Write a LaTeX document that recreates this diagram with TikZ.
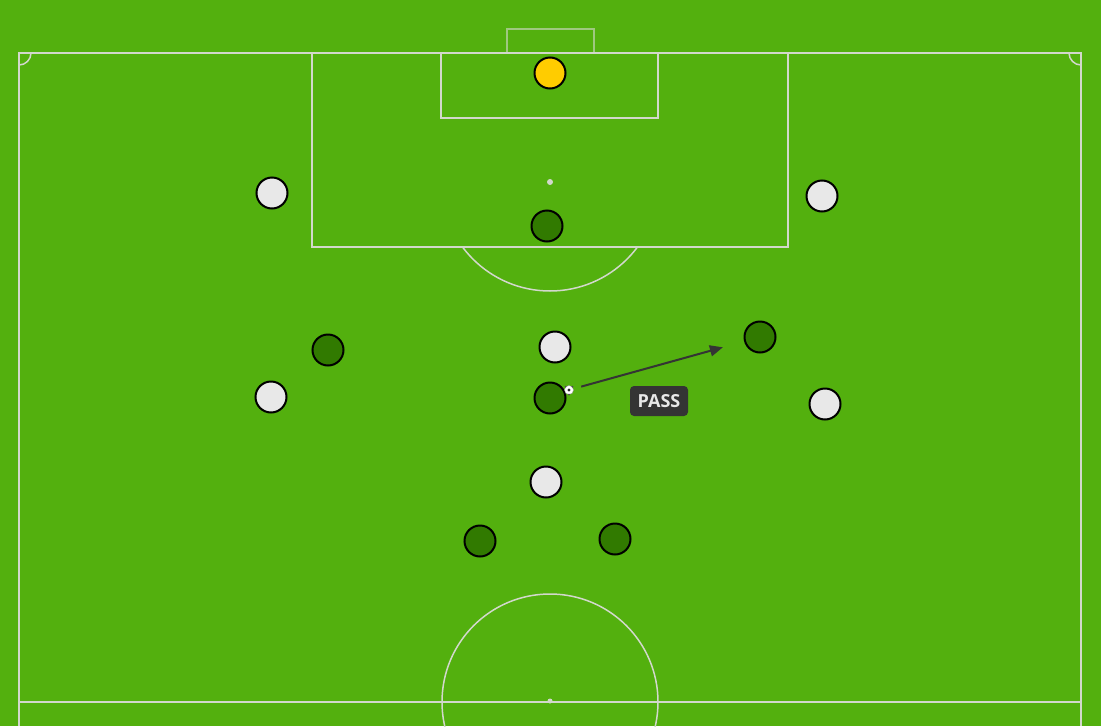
\documentclass[tikz,border=0pt]{standalone}
\usepackage{fontspec}
\usetikzlibrary{arrows.meta}
\newfontfamily\passfont{Open Sans}
\definecolor{pitch}{RGB}{83,176,14}
\definecolor{home}{RGB}{49,122,0}
\definecolor{away}{RGB}{232,232,232}
\definecolor{keeper}{RGB}{255,204,0}
\definecolor{chalk}{RGB}{210,216,204}
\definecolor{tag}{RGB}{52,52,52}
\begin{document}
\begin{tikzpicture}[x=1pt,y=-1pt,
  line/.style={draw=chalk, line width=2pt},
  thinline/.style={draw=chalk, line width=1.5pt},
  player/.style={circle, draw=black, line width=2pt, minimum size=31pt, inner sep=0pt}]
\useasboundingbox (0,0) rectangle (1101,726);
\fill[pitch] (0,0) rectangle (1101,726);
\draw[line] (19,726) -- (19,53) -- (1081,53) -- (1081,726);
\draw[line] (19,702) -- (1081,702);
\draw[line] (312,53) -- (312,247) -- (788,247) -- (788,53);
\draw[line] (441,53) -- (441,118) -- (658,118) -- (658,53);
\draw[line, opacity=0.6] (507,53) -- (507,29) -- (594,29) -- (594,53);
\begin{scope}
\clip (0,248) rectangle (1101,400);
\draw[thinline] (550,182) circle[radius=109pt];
\end{scope}
\begin{scope}
\clip (19,53) rectangle (1081,726);
\draw[thinline] (19,53) circle[radius=12pt] (1081,53) circle[radius=12pt];
\end{scope}
\draw[thinline] (550,702) circle[radius=108pt];
\fill[chalk] (550,182) circle[radius=3pt];
\fill[chalk] (550,701) circle[radius=2.5pt];
\node[player, fill=keeper] (gk) at (550,73){};
\node[player, fill=away] (w1) at (272,193){};
\node[player, fill=away] (w2) at (822,196){};
\node[player, fill=away] (w3) at (555,347){};
\node[player, fill=away] (w4) at (271,397){};
\node[player, fill=away] (w5) at (825,404){};
\node[player, fill=away] (w6) at (546,482){};
\node[player, fill=home] (h1) at (547,226){};
\node[player, fill=home] (h2) at (328,350){};
\node[player, fill=home] (h3) at (760,337){};
\node[player, fill=home] (h4) at (550,398){};
\node[player, fill=home] (h5) at (480,541){};
\node[player, fill=home] (h6) at (615,539){};
\node[circle, fill=white, draw=black!40, line width=0.4pt, minimum size=9pt, inner sep=0pt] (ball) at (569,390){};
\fill[black!85] (ball.center) circle[radius=1.6pt];
\fill[black!70] (ball.north west) circle[radius=1pt] (ball.north east) circle[radius=1pt] (ball.south) circle[radius=1pt];
\draw[tag, line width=2pt, -{Triangle[length=13pt,width=11pt]}, shorten <=8pt, shorten >=22pt] (ball) -- (h3);
\node[fill=tag, rounded corners=4pt, text=away, font=\passfont\bfseries\fontsize{18}{18}\selectfont, minimum width=58pt, minimum height=30pt, inner sep=0pt] (pass) at (659,401){PASS};
\end{tikzpicture}
\end{document}
